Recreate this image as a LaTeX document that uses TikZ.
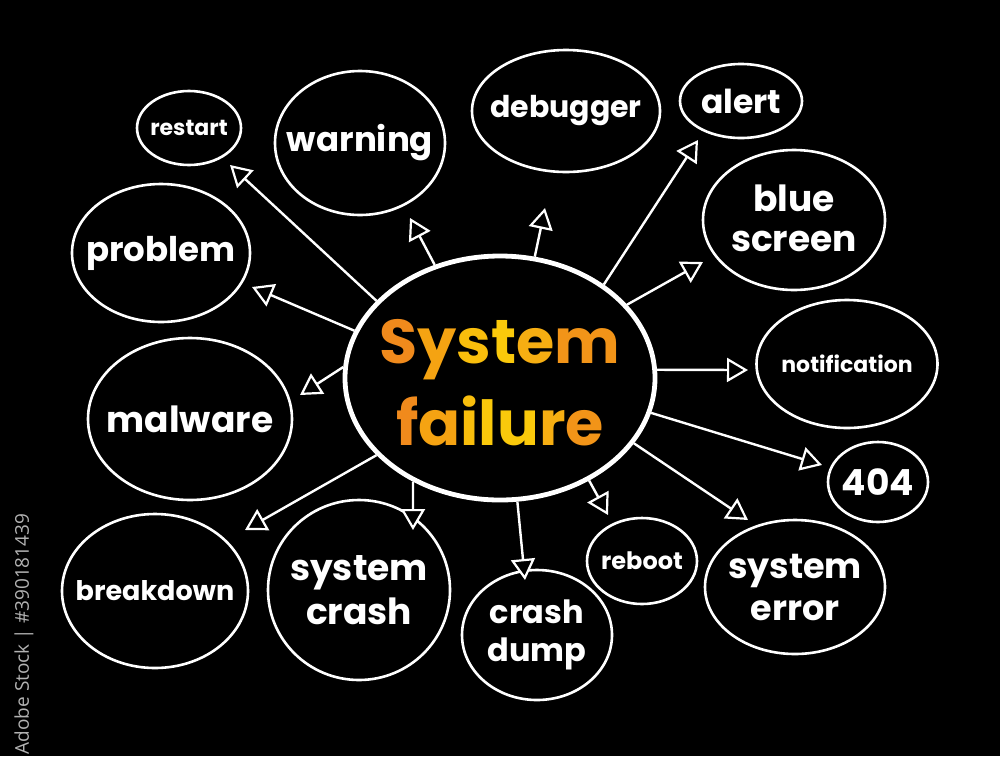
\documentclass[tikz,border=0pt]{standalone}
\usepackage{fontspec}
\setmainfont{Poppins}
\newfontfamily\wmfont{Open Sans}
\usetikzlibrary{arrows.meta,shapes.geometric}
\definecolor{oA}{HTML}{F08A1C}
\definecolor{oB}{HTML}{F5A312}
\definecolor{oC}{HTML}{F9BE0C}
\definecolor{oD}{HTML}{FAC90B}
\definecolor{oE}{HTML}{F6AE12}
\definecolor{oF}{HTML}{F29418}
\newcommand{\fsz}[1]{\fontsize{#1}{#1}\selectfont\bfseries}
\begin{document}
\begin{tikzpicture}[x=1pt,y=-1pt,
  bub/.style={draw=white, line width=2.6pt, ellipse, inner sep=0pt},
  lbl/.style={text=white, align=center, inner sep=0pt},
  arr/.style={draw=white, line width=2.4pt,
    -{Triangle[open,fill=black,length=21pt,width=24pt,line width=2.2pt]}}]
\fill[black] (0,0) rectangle (1000,756);
\useasboundingbox (0,0) rectangle (1000,756);

% center
\node[bub, line width=4.8pt, minimum width=310pt, minimum height=244pt] (c) at (500,378) {};
\node[lbl, font=\fontsize{62}{82}\selectfont\bfseries] (cT) at (500,383) {%
\textcolor{oA}{S}\textcolor{oB}{y}\textcolor{oC}{s}\textcolor{oD}{t}\textcolor{oE}{e}\textcolor{oF}{m}\\
\textcolor{oA}{f}\textcolor{oB}{a}\textcolor{oC}{i}\textcolor{oD}{l}\textcolor{oD}{u}\textcolor{oE}{r}\textcolor{oF}{e}};

% bubbles
\node[bub, minimum width=104pt, minimum height=74pt] (restart) at (189,128) {};
\node[lbl, font=\fsz{22}] (restartT) at (restart) {restart};
\node[bub, minimum width=170pt, minimum height=144pt] (warning) at (360,143) {};
\node[lbl, font=\fsz{34}] (warningT) at (warning) {warning};
\node[bub, minimum width=188pt, minimum height=122pt] (debugger) at (566,111) {};
\node[lbl, font=\fsz{30}] (debuggerT) at (debugger) {debugger};
\node[bub, minimum width=122pt, minimum height=74pt] (alert) at (741,101) {};
\node[lbl, font=\fsz{33}] (alertT) at (alert) {alert};
\node[bub, minimum width=182pt, minimum height=140pt] (blue) at (794,220) {};
\node[lbl, font=\fontsize{36}{40}\selectfont\bfseries] (blueT) at (794,218) {blue\\screen};
\node[bub, minimum width=178pt, minimum height=138pt] (problem) at (161,253) {};
\node[lbl, font=\fsz{34}] (problemT) at (problem) {problem};
\node[bub, minimum width=204pt, minimum height=162pt] (malware) at (190,419) {};
\node[lbl, font=\fsz{36}] (malwareT) at (malware) {malware};
\node[bub, minimum width=181pt, minimum height=128pt] (notif) at (847,364) {};
\node[lbl, font=\fsz{22}] (notifT) at (notif) {notification};
\node[bub, minimum width=100pt, minimum height=80pt] (err) at (878,482) {};
\node[lbl, font=\fsz{36}] (errT) at (err) {404};
\node[bub, minimum width=186pt, minimum height=154pt] (breakdown) at (155,591) {};
\node[lbl, font=\fsz{27}] (breakdownT) at (breakdown) {breakdown};
\node[bub, minimum width=182pt, minimum height=180pt] (scrash) at (359,590) {};
\node[lbl, font=\fontsize{36}{44}\selectfont\bfseries] (scrashT) at (359,590) {system\\crash};
\node[bub, minimum width=150pt, minimum height=130pt] (cdump) at (537,635) {};
\node[lbl, font=\fontsize{32}{38}\selectfont\bfseries] (cdumpT) at (537,635) {crash\\dump};
\node[bub, minimum width=110pt, minimum height=86pt] (reboot) at (642,561) {};
\node[lbl, font=\fsz{24}] (rebootT) at (reboot) {reboot};
\node[bub, minimum width=180pt, minimum height=134pt] (serror) at (795,587) {};
\node[lbl, font=\fontsize{35}{42}\selectfont\bfseries] (serrorT) at (795,587) {system\\error};

% arrow tips
\coordinate (t1) at (230,165);
\coordinate (t2) at (410,218);
\coordinate (t3) at (545,208);
\coordinate (t4) at (698,140);
\coordinate (t5) at (703,262);
\coordinate (t6) at (252,287);
\coordinate (t7) at (300,395);
\coordinate (t8) at (748,370);
\coordinate (t9) at (822,465);
\coordinate (t10) at (748,520);
\coordinate (t11) at (608,515);
\coordinate (t12) at (525,580);
\coordinate (t13) at (413,530);
\coordinate (t14) at (245,530);

\draw[arr] (c.148) -- (t1);
\draw[arr] (c.120) -- (t2);
\draw[arr] (c.74) -- (t3);
\draw[arr] (c.42) -- (t4);
\draw[arr] (c.30) -- (t5);
\draw[arr] (c.162) -- (t6);
\draw[arr] (c.176) -- (t7);
\draw[arr] (c.3) -- (t8);
\draw[arr] (c.-13) -- (t9);
\draw[arr] (c.-26) -- (t10);
\draw[arr] (c.-49) -- (t11);
\draw[arr] (c.-82) -- (t12);
\draw[arr] (c.-130) -- (t13);
\draw[arr] (c.-148) -- (t14);

\node[rotate=90, text=white!70!black, font=\wmfont\fontsize{19}{20}\selectfont] (wm) at (24,634) {Adobe Stock | \#390181439};
\end{tikzpicture}
\end{document}
